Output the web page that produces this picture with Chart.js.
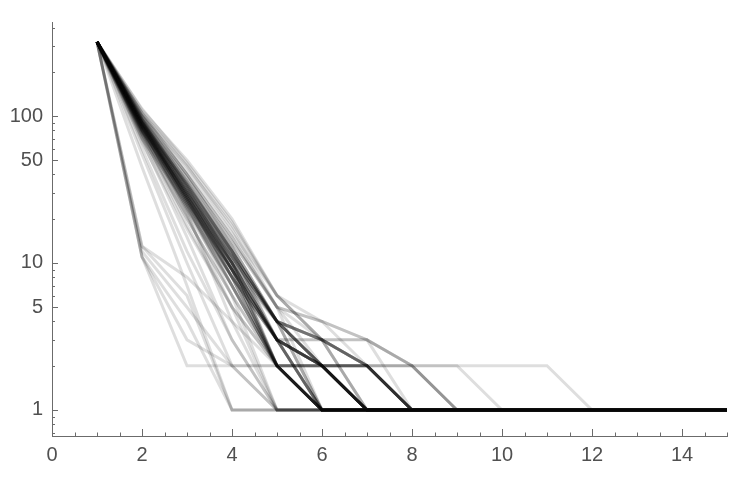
<!DOCTYPE html>
<html>
<head>
<meta charset="utf-8">
<script src="https://cdn.jsdelivr.net/npm/chart.js"></script>
<style>
    html, body { margin: 0; padding: 0; background: #fff; }
</style>
</head>
<body>
<canvas id="decayChart" width="752" height="482"></canvas>
<script>
// step index (x) shared by every run
var steps = [1, 2, 3, 4, 5, 6, 7, 8, 9, 10, 11, 12, 13, 14, 15];

// runs grouped by the step where they first hit 1
var endAt4 = [
    [320, 11, 4, 1, 1, 1, 1, 1, 1, 1, 1, 1, 1, 1, 1],
    [320, 13, 6, 1, 1, 1, 1, 1, 1, 1, 1, 1, 1, 1, 1],
    [320, 45, 7, 1, 1, 1, 1, 1, 1, 1, 1, 1, 1, 1, 1]
];
var endAt5 = [
    [320, 12, 5, 2, 1, 1, 1, 1, 1, 1, 1, 1, 1, 1, 1],
    [320, 60, 12, 3, 1, 1, 1, 1, 1, 1, 1, 1, 1, 1, 1],
    [320, 75, 18, 5, 1, 1, 1, 1, 1, 1, 1, 1, 1, 1, 1],
    [320, 55, 10, 2, 1, 1, 1, 1, 1, 1, 1, 1, 1, 1, 1],
    [320, 85, 22, 4, 1, 1, 1, 1, 1, 1, 1, 1, 1, 1, 1],
    [320, 68, 15, 3, 1, 1, 1, 1, 1, 1, 1, 1, 1, 1, 1],
    [320, 90, 25, 6, 1, 1, 1, 1, 1, 1, 1, 1, 1, 1, 1]
];
var endAt6 = [
    [320, 95, 30, 9, 2, 1, 1, 1, 1, 1, 1, 1, 1, 1, 1],
    [320, 85, 26, 8, 2, 1, 1, 1, 1, 1, 1, 1, 1, 1, 1],
    [320, 78, 22, 7, 2, 1, 1, 1, 1, 1, 1, 1, 1, 1, 1],
    [320, 90, 33, 10, 2, 1, 1, 1, 1, 1, 1, 1, 1, 1, 1],
    [320, 70, 20, 6, 2, 1, 1, 1, 1, 1, 1, 1, 1, 1, 1],
    [320, 100, 35, 12, 3, 1, 1, 1, 1, 1, 1, 1, 1, 1, 1],
    [320, 88, 28, 9, 3, 1, 1, 1, 1, 1, 1, 1, 1, 1, 1],
    [320, 75, 24, 8, 3, 1, 1, 1, 1, 1, 1, 1, 1, 1, 1],
    [320, 82, 30, 11, 4, 1, 1, 1, 1, 1, 1, 1, 1, 1, 1],
    [320, 92, 27, 7, 2, 1, 1, 1, 1, 1, 1, 1, 1, 1, 1],
    [320, 66, 17, 5, 2, 1, 1, 1, 1, 1, 1, 1, 1, 1, 1],
    [320, 86, 31, 12, 4, 1, 1, 1, 1, 1, 1, 1, 1, 1, 1],
    [320, 80, 25, 9, 2, 1, 1, 1, 1, 1, 1, 1, 1, 1, 1],
    [320, 96, 38, 14, 5, 1, 1, 1, 1, 1, 1, 1, 1, 1, 1],
    [320, 72, 21, 5, 2, 1, 1, 1, 1, 1, 1, 1, 1, 1, 1],
    [320, 84, 29, 10, 3, 1, 1, 1, 1, 1, 1, 1, 1, 1, 1],
    [320, 11, 3, 2, 2, 1, 1, 1, 1, 1, 1, 1, 1, 1, 1],
    [320, 105, 40, 13, 4, 1, 1, 1, 1, 1, 1, 1, 1, 1, 1],
    [320, 88, 27, 8, 2, 1, 1, 1, 1, 1, 1, 1, 1, 1, 1],
    [320, 82, 24, 7, 2, 1, 1, 1, 1, 1, 1, 1, 1, 1, 1],
    [320, 93, 29, 9, 2, 1, 1, 1, 1, 1, 1, 1, 1, 1, 1],
    [320, 79, 23, 8, 2, 1, 1, 1, 1, 1, 1, 1, 1, 1, 1],
    [320, 86, 26, 9, 3, 1, 1, 1, 1, 1, 1, 1, 1, 1, 1],
    [320, 91, 32, 10, 3, 1, 1, 1, 1, 1, 1, 1, 1, 1, 1],
    [320, 77, 24, 7, 2, 1, 1, 1, 1, 1, 1, 1, 1, 1, 1],
    [320, 84, 28, 11, 2, 1, 1, 1, 1, 1, 1, 1, 1, 1, 1],
    [320, 97, 33, 10, 2, 1, 1, 1, 1, 1, 1, 1, 1, 1, 1],
    [320, 81, 27, 9, 3, 1, 1, 1, 1, 1, 1, 1, 1, 1, 1]
];
var endAt7 = [
    [320, 90, 30, 10, 4, 2, 1, 1, 1, 1, 1, 1, 1, 1, 1],
    [320, 80, 27, 9, 3, 2, 1, 1, 1, 1, 1, 1, 1, 1, 1],
    [320, 100, 40, 15, 5, 2, 1, 1, 1, 1, 1, 1, 1, 1, 1],
    [320, 76, 23, 7, 2, 2, 1, 1, 1, 1, 1, 1, 1, 1, 1],
    [320, 88, 35, 13, 4, 2, 1, 1, 1, 1, 1, 1, 1, 1, 1],
    [320, 94, 32, 11, 3, 2, 1, 1, 1, 1, 1, 1, 1, 1, 1],
    [320, 70, 25, 9, 3, 2, 1, 1, 1, 1, 1, 1, 1, 1, 1],
    [320, 85, 28, 8, 2, 2, 1, 1, 1, 1, 1, 1, 1, 1, 1],
    [320, 105, 45, 18, 6, 3, 1, 1, 1, 1, 1, 1, 1, 1, 1],
    [320, 82, 26, 10, 4, 3, 1, 1, 1, 1, 1, 1, 1, 1, 1],
    [320, 98, 36, 12, 4, 3, 1, 1, 1, 1, 1, 1, 1, 1, 1],
    [320, 92, 34, 12, 4, 2, 1, 1, 1, 1, 1, 1, 1, 1, 1],
    [320, 74, 20, 6, 2, 2, 1, 1, 1, 1, 1, 1, 1, 1, 1],
    [320, 13, 8, 4, 2, 2, 1, 1, 1, 1, 1, 1, 1, 1, 1],
    [320, 87, 29, 9, 3, 2, 1, 1, 1, 1, 1, 1, 1, 1, 1],
    [320, 83, 27, 10, 3, 2, 1, 1, 1, 1, 1, 1, 1, 1, 1],
    [320, 90, 31, 9, 2, 2, 1, 1, 1, 1, 1, 1, 1, 1, 1],
    [320, 78, 25, 8, 3, 2, 1, 1, 1, 1, 1, 1, 1, 1, 1],
    [320, 95, 33, 11, 4, 2, 1, 1, 1, 1, 1, 1, 1, 1, 1],
    [320, 85, 30, 10, 2, 2, 1, 1, 1, 1, 1, 1, 1, 1, 1],
    [320, 89, 28, 8, 3, 2, 1, 1, 1, 1, 1, 1, 1, 1, 1],
    [320, 80, 26, 9, 4, 2, 1, 1, 1, 1, 1, 1, 1, 1, 1]
];
var endAt8 = [
    [320, 92, 34, 12, 4, 3, 2, 1, 1, 1, 1, 1, 1, 1, 1],
    [320, 86, 30, 11, 4, 2, 2, 1, 1, 1, 1, 1, 1, 1, 1],
    [320, 102, 42, 16, 6, 3, 2, 1, 1, 1, 1, 1, 1, 1, 1],
    [320, 78, 27, 8, 3, 2, 2, 1, 1, 1, 1, 1, 1, 1, 1],
    [320, 95, 38, 14, 5, 4, 2, 1, 1, 1, 1, 1, 1, 1, 1],
    [320, 88, 33, 12, 4, 3, 2, 1, 1, 1, 1, 1, 1, 1, 1],
    [320, 110, 50, 20, 6, 3, 2, 1, 1, 1, 1, 1, 1, 1, 1],
    [320, 94, 36, 13, 4, 3, 3, 1, 1, 1, 1, 1, 1, 1, 1],
    [320, 80, 28, 10, 3, 2, 2, 1, 1, 1, 1, 1, 1, 1, 1],
    [320, 88, 30, 10, 3, 2, 2, 1, 1, 1, 1, 1, 1, 1, 1],
    [320, 92, 32, 11, 4, 2, 2, 1, 1, 1, 1, 1, 1, 1, 1],
    [320, 84, 29, 9, 3, 3, 2, 1, 1, 1, 1, 1, 1, 1, 1],
    [320, 86, 28, 10, 3, 2, 2, 1, 1, 1, 1, 1, 1, 1, 1],
    [320, 90, 34, 12, 4, 3, 2, 1, 1, 1, 1, 1, 1, 1, 1]
];
var endAt9 = [
    [320, 100, 40, 15, 5, 4, 3, 2, 1, 1, 1, 1, 1, 1, 1],
    [320, 90, 35, 12, 3, 3, 3, 2, 1, 1, 1, 1, 1, 1, 1],
    [320, 112, 48, 19, 6, 4, 3, 2, 1, 1, 1, 1, 1, 1, 1],
    [320, 84, 31, 11, 4, 2, 2, 2, 1, 1, 1, 1, 1, 1, 1]
];
var endAt10 = [
    [320, 104, 46, 17, 5, 3, 2, 2, 2, 1, 1, 1, 1, 1, 1]
];
var endAt12 = [
    [320, 11, 2, 2, 2, 2, 2, 2, 2, 2, 2, 1, 1, 1, 1]
];

// axis ticks
var xMajorTicks = [0, 2, 4, 6, 8, 10, 12, 14];
var xMinorTicks = [0.5, 1, 1.5, 2.5, 3, 3.5, 4.5, 5, 5.5, 6.5, 7, 7.5, 8.5, 9, 9.5, 10.5, 11, 11.5, 12.5, 13, 13.5, 14.5, 15];
var yMajorTicks = [1, 5, 10, 50, 100];
var yMinorTicks = [0.7, 0.8, 0.9, 2, 3, 4, 6, 7, 8, 9, 20, 30, 40, 60, 70, 80, 90, 200, 300, 400];

var axisColor = "#6b6b6b";
var labelColor = "#505050";

var allRuns = [].concat(endAt4, endAt5, endAt6, endAt7, endAt8, endAt9, endAt10, endAt12);
var datasets = [];
for (var i = 0; i < allRuns.length; i++) {
    var pts = [];
    for (var j = 0; j < steps.length; j++) {
        pts.push({ x: steps[j], y: allRuns[i][j] });
    }
    datasets.push({
        data: pts,
        borderColor: "rgba(0,0,0,0.13)",
        borderWidth: 3,
        pointRadius: 0,
        tension: 0,
        fill: false
    });
}

// Mathematica style ticks pointing into the plot
var innerTicks = {
    id: "innerTicks",
    beforeDatasetsDraw: function (chart) {
        var c = chart.ctx;
        var area = chart.chartArea;
        var xs = chart.scales.x;
        var ys = chart.scales.y;
        c.save();
        c.strokeStyle = axisColor;
        c.lineWidth = 1;
        c.beginPath();
        xMajorTicks.forEach(function (v) {
            var px = Math.round(xs.getPixelForValue(v)) + 0.5;
            c.moveTo(px, area.bottom); c.lineTo(px, area.bottom - 7);
        });
        xMinorTicks.forEach(function (v) {
            var px = Math.round(xs.getPixelForValue(v)) + 0.5;
            c.moveTo(px, area.bottom); c.lineTo(px, area.bottom - 3.5);
        });
        yMajorTicks.forEach(function (v) {
            var py = Math.round(ys.getPixelForValue(v)) + 0.5;
            c.moveTo(area.left, py); c.lineTo(area.left + 6, py);
        });
        yMinorTicks.forEach(function (v) {
            var py = Math.round(ys.getPixelForValue(v)) + 0.5;
            c.moveTo(area.left, py); c.lineTo(area.left + 3, py);
        });
        c.stroke();
        c.restore();
    }
};

var ctx = document.getElementById("decayChart").getContext("2d");
var myChart = new Chart(ctx, {
    type: "line",
    data: { datasets: datasets },
    options: {
        responsive: false,
        animation: false,
        events: [],
        layout: { padding: { top: 22, right: 25, left: 0, bottom: 0 } },
        plugins: {
            legend: { display: false },
            tooltip: { enabled: false }
        },
        scales: {
            x: {
                type: "linear",
                min: 0,
                max: 15,
                grid: { display: false, drawTicks: false },
                border: { display: true, color: axisColor, width: 1 },
                ticks: {
                    color: labelColor,
                    font: { family: "Liberation Sans", size: 20 },
                    padding: 7,
                    autoSkip: false,
                    maxRotation: 0,
                    callback: function (v) { return String(v); }
                },
                afterBuildTicks: function (s) {
                    s.ticks = xMajorTicks.map(function (v) { return { value: v }; });
                },
                afterFit: function (s) { s.height = 46; }
            },
            y: {
                type: "logarithmic",
                min: 0.665,
                max: 436,
                grid: { display: false, drawTicks: false },
                border: { display: true, color: axisColor, width: 1 },
                ticks: {
                    color: labelColor,
                    font: { family: "Liberation Sans", size: 20 },
                    padding: 9,
                    autoSkip: false,
                    callback: function (v) { return String(v); }
                },
                afterBuildTicks: function (s) {
                    s.ticks = yMajorTicks.map(function (v) { return { value: v }; });
                },
                afterFit: function (s) { s.width = 52; }
            }
        }
    },
    plugins: [innerTicks]
});
</script>
</body>
</html>
